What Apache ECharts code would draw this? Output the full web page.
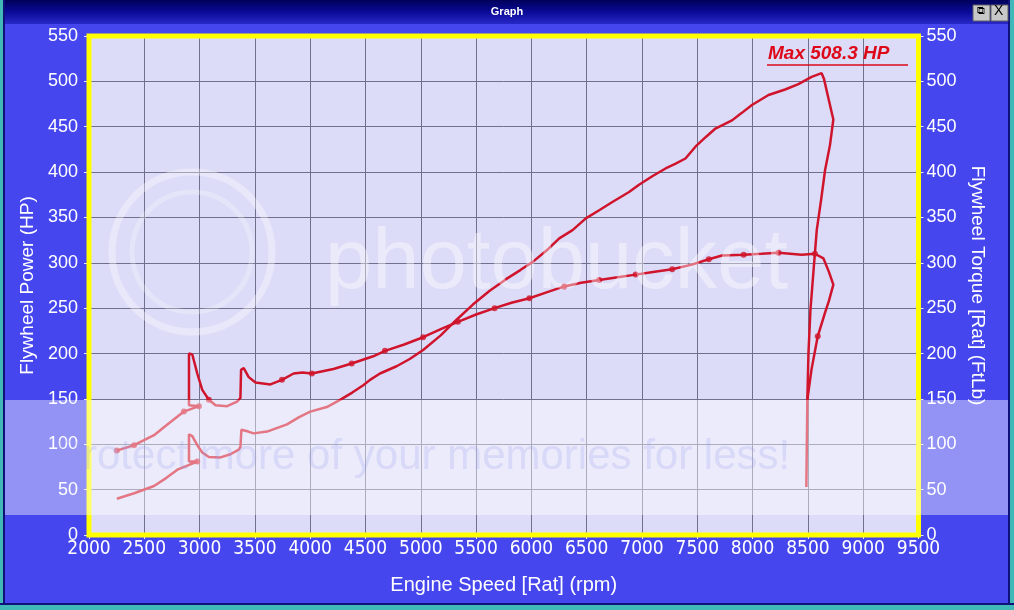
<!DOCTYPE html>
<html>
<head>
<meta charset="utf-8">
<script src="https://cdn.jsdelivr.net/npm/echarts@6/dist/echarts.min.js"></script>
<style>
html,body{margin:0;padding:0;background:#4646ee;}
#chart{width:1014px;height:610px;}
</style>
</head>
<body>
<div id="chart"></div>
<script>
// ---- Data ----
const xTicks = [2000,2500,3000,3500,4000,4500,5000,5500,6000,6500,7000,7500,8000,8500,9000,9500];
const yTicks = [0,50,100,150,200,250,300,350,400,450,500,550];

const powerRpm = [2252,2408,2588,2700,2799,2900,2979,2904,2904,2934,2979,3024,3084,3189,3279,3354,3369,3378,3390,3440,3489,3610,3790,3900,4000,4150,4270,4380,4480,4541,4631,4781,4900,5021,5180,5321,5471,5620,5771,5900,6012,6150,6252,6372,6492,6613,6732,6883,6973,7100,7213,7300,7393,7483,7580,7664,7814,7900,7994,8144,8294,8414,8534,8624,8645,8688,8730,8700,8655,8620,8580,8550,8523,8505,8495,8486];
const powerHp  = [40,46,54,63,72,77,81,81,111,109,99,91,86,85.5,89,94,97,116,118,114,112,114,122,130,136,141,149,157,165,171,178,186,194,204,220,237,254,269,282,292,301,315,327,336,349,358,367,378,386,396,404,409,415,428,439,448,457,465,474,485,491,497,505,509,503,480,458,430,402,370,336,290,248,200,149,53];

const torqueRpm = [2252,2408,2588,2700,2858,2994,2904,2904,2934,2979,3024,3084,3144,3249,3339,3369,3375,3399,3444,3505,3640,3745,3850,3930,4015,4210,4375,4570,4676,4850,5021,5201,5336,5500,5667,5820,5982,6150,6297,6450,6613,6780,6943,7100,7273,7450,7604,7724,7919,8080,8234,8444,8564,8640,8690,8730,8690,8655,8589,8532,8495];
const torqueFtLb = [93,99,110,121,136,142,143,200,199,178,160,149,143,142,147,151,182,184,174,168,166,171,178,179,178,183,189,197,203,210,218,228,235,243,250,256,261,268,274,278,281,284,287,290,293,298,304,308,309,310,311,309,310,305,290,276,258,245,219,182,149];

const powerDotRpm = [2979];
const powerDotHp = [81];
const torqueDotRpm = [2252,2408,2858,2994,3084,3745,4015,4375,4676,5021,5336,5667,5982,6297,6613,6943,7273,7604,7919,8234,8564,8589];
const torqueDotFtLb = [93,99,136,142,149,171,178,189,203,218,235,250,261,274,281,287,293,304,309,311,310,219];

const maxLabel = 'Max 508.3 HP';

// ---- Build ----
const zip = (a, b) => a.map((v, i) => [v, b[i]]);
const RED = '#d0142c';
const chart = echarts.init(document.getElementById('chart'));

const lbl = {color:'#ffffff', fontFamily:'Liberation Sans, Arial, sans-serif', fontSize:18};

chart.setOption({
  animation: false,
  backgroundColor: '#4646ee',
  grid: {left: 89, right: 95.5, top: 36, bottom: 75, show: true, backgroundColor: '#dcdcf8', borderWidth: 0},
  xAxis: {
    type: 'value', min: 2000, max: 9500, interval: 500,
    axisLine: {show: false},
    axisTick: {show: true, length: 4, lineStyle: {color: '#e8e8ff'}},
    axisLabel: {color:'#ffffff', fontFamily:'DejaVu Sans Condensed, Liberation Sans, sans-serif', fontSize: 19, margin: 5,
      formatter: v => xTicks.includes(v) ? String(v) : ''},
    splitLine: {show: true, showMinLine: false, showMaxLine: false, lineStyle: {color: '#70708c', width: 1}},
    name: 'Engine Speed [Rat] (rpm)', nameLocation: 'middle', nameGap: 40,
    nameTextStyle: {color:'#ffffff', fontFamily:'Liberation Sans, Arial, sans-serif', fontSize: 20}
  },
  yAxis: [{
    type: 'value', position: 'left', min: 0, max: 550, interval: 50,
    axisLine: {show: false},
    axisTick: {show: true, length: 5, lineStyle: {color: '#e8e8ff'}},
    axisLabel: Object.assign({margin: 11, formatter: v => yTicks.includes(v) ? String(v) : ''}, lbl),
    splitLine: {show: true, showMinLine: false, showMaxLine: false, lineStyle: {color: '#70708c', width: 1}},
    name: 'Flywheel Power (HP)', nameLocation: 'middle', nameGap: 48, nameRotate: 90,
    nameTextStyle: Object.assign({}, lbl, {fontSize: 19})
  }, {
    type: 'value', position: 'right', min: 0, max: 550, interval: 50,
    axisLine: {show: false},
    axisTick: {show: true, length: 5, lineStyle: {color: '#e8e8ff'}},
    axisLabel: Object.assign({margin: 8, formatter: v => yTicks.includes(v) ? String(v) : ''}, lbl),
    splitLine: {show: false},
    name: 'Flywheel Torque [Rat] (FtLb)', nameLocation: 'middle', nameGap: 44, nameRotate: -90,
    nameTextStyle: Object.assign({}, lbl, {fontSize: 19})
  }],
  series: [
    {type: 'line', name: 'Power', yAxisIndex: 0, data: zip(powerRpm, powerHp), showSymbol: false, symbol: 'none',
     lineStyle: {color: RED, width: 2.5}, z: 3},
    {type: 'line', name: 'Torque', yAxisIndex: 1, data: zip(torqueRpm, torqueFtLb), showSymbol: false, symbol: 'none',
     lineStyle: {color: RED, width: 2.5}, z: 3},
    {type: 'scatter', yAxisIndex: 0, data: zip(powerDotRpm, powerDotHp), symbolSize: 6, itemStyle: {color: RED}, z: 4},
    {type: 'scatter', yAxisIndex: 1, data: zip(torqueDotRpm, torqueDotFtLb), symbolSize: 6, itemStyle: {color: RED}, z: 4}
  ],
  graphic: [
    // yellow plot frame
    {type: 'rect', z: 50, shape: {x: 89, y: 36, width: 829.5, height: 499}, style: {fill: 'none', stroke: '#ffff00', lineWidth: 5}},
    // max label
    {type: 'text', z: 60, left: 768, top: 44, style: {text: maxLabel, fill: '#dd0818', font: 'italic bold 19px Liberation Sans, Arial, sans-serif'}},
    {type: 'line', z: 60, shape: {x1: 767, y1: 65, x2: 908, y2: 65}, style: {stroke: '#dd0818', lineWidth: 1.5}},
    // photobucket watermark
    {type: 'circle', z: 90, shape: {cx: 192, cy: 252, r: 80}, style: {fill: 'none', stroke: 'rgba(255,255,255,0.35)', lineWidth: 7}},
    {type: 'circle', z: 90, shape: {cx: 192, cy: 252, r: 60}, style: {fill: 'none', stroke: 'rgba(255,255,255,0.25)', lineWidth: 5}},
    {type: 'text', z: 90, left: 325, top: 222, style: {text: 'photobucket', fill: 'rgba(255,255,255,0.4)', font: '85px Liberation Sans, Arial, sans-serif'}},
    {type: 'rect', z: 95, shape: {x: 0, y: 400, width: 1014, height: 115}, style: {fill: 'rgba(255,255,255,0.42)'}},
    {type: 'text', z: 96, left: 55, top: 436, style: {text: 'Protect more of your memories for less!', fill: 'rgba(150,150,235,0.22)', font: '42px Liberation Sans, Arial, sans-serif'}},
    // window title bar
    {type: 'rect', z: 100, shape: {x: 0, y: 0, width: 1014, height: 24},
     style: {fill: new echarts.graphic.LinearGradient(0, 0, 0, 1, [{offset: 0, color: '#00005a'}, {offset: 0.5, color: '#0a0a98'}, {offset: 1, color: '#2828c8'}])}},
    {type: 'text', z: 101, left: 'center', top: 6, style: {text: 'Graph', fill: '#ffffff', font: 'bold 11px Liberation Sans, Arial, sans-serif'}},
    {type: 'rect', z: 101, shape: {x: 973, y: 5, width: 17, height: 16}, style: {fill: '#c8c8c8', stroke: '#606060', lineWidth: 1}},
    {type: 'rect', z: 101, shape: {x: 991, y: 5, width: 17, height: 16}, style: {fill: '#c8c8c8', stroke: '#606060', lineWidth: 1}},
    {type: 'text', z: 102, left: 977, top: 6, style: {text: '⧉', fill: '#000', font: '11px DejaVu Sans'}},
    {type: 'text', z: 102, left: 994, top: 4, style: {text: 'X', fill: '#000', font: '14px Liberation Sans, Arial'}},
    // window border
    {type: 'rect', z: 100, shape: {x: 0, y: 0, width: 3, height: 610}, style: {fill: '#40b8b8'}},
    {type: 'rect', z: 100, shape: {x: 3, y: 0, width: 2, height: 610}, style: {fill: '#10107a'}},
    {type: 'rect', z: 100, shape: {x: 1010, y: 0, width: 4, height: 610}, style: {fill: '#40b8b8'}},
    {type: 'rect', z: 100, shape: {x: 1008, y: 0, width: 2, height: 610}, style: {fill: '#10107a'}},
    {type: 'rect', z: 100, shape: {x: 0, y: 605, width: 1014, height: 5}, style: {fill: '#40b8b8'}},
    {type: 'rect', z: 100, shape: {x: 0, y: 603, width: 1014, height: 2}, style: {fill: '#10107a'}}
  ]
});
</script>
</body>
</html>
